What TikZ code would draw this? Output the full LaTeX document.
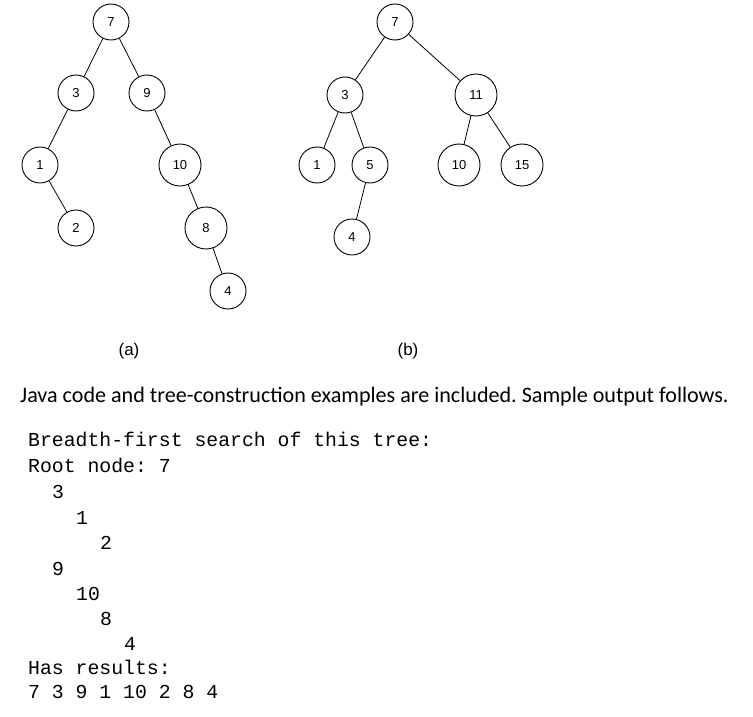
\documentclass[tikz,border=0pt]{standalone}
\usepackage{fontspec}
\setmainfont{Liberation Sans}
\newfontfamily\capfont{Carlito}
\newfontfamily\codefont{Liberation Mono}
\frenchspacing
\begin{document}
\begin{tikzpicture}[x=1pt,y=-1pt,
  tn/.style={circle,draw,line width=0.9pt,minimum size=36pt,inner sep=0pt,font=\fontsize{13}{15}\selectfont},
  tw/.style={tn,minimum size=42pt},
  edge/.style={line width=0.8pt},
  code/.style={anchor=base west,inner sep=0pt,font=\codefont\fontsize{19.8}{22}\selectfont}]
\useasboundingbox (0,0) rectangle (753,717);
% tree a
\node[tn] (a7) at (111,22) {7};
\node[tn] (a3) at (76,93) {3};
\node[tn] (a9) at (147,93) {9};
\node[tn] (a1) at (40,165) {1};
\node[tw] (a10) at (180,165) {10};
\node[tn] (a2) at (76,228) {2};
\node[tw] (a8) at (206,228) {8};
\node[tn] (a4) at (228,291) {4};
\draw[edge] (a7)--(a3) (a7)--(a9) (a3)--(a1) (a1)--(a2) (a9)--(a10) (a10)--(a8) (a8)--(a4);
% tree b
\node[tn] (b7) at (395,22) {7};
\node[tn] (b3) at (345,95) {3};
\node[tw] (b11) at (476,95) {11};
\node[tn] (b1) at (317,165) {1};
\node[tn] (b5) at (370,165) {5};
\node[tw] (b10) at (459,165) {10};
\node[tw] (b15) at (522,165) {15};
\node[tn] (b4) at (352,237) {4};
\draw[edge] (b7)--(b3) (b7)--(b11) (b3)--(b1) (b3)--(b5) (b5)--(b4) (b11)--(b10) (b11)--(b15);
\node[font=\fontsize{17}{20}\selectfont] (la) at (129,351) {(a)};
\node[font=\fontsize{17}{20}\selectfont] (lb) at (408,351) {(b)};
\node[anchor=west,inner sep=0pt,font=\capfont\fontsize{22.1}{24}\selectfont] (cap) at (20,397) {Java code and tree-construction examples are included. Sample output follows.};
\node[code] (c1) at (28,446) {Breadth-first search of this tree:};
\node[code] (c2) at (28,472) {Root node: 7};
\node[code] (c3) at (52,498) {3};
\node[code] (c4) at (76,524) {1};
\node[code] (c5) at (100,549) {2};
\node[code] (c6) at (52,575) {9};
\node[code] (c7) at (76,600) {10};
\node[code] (c8) at (100,625) {8};
\node[code] (c9) at (124,650) {4};
\node[code] (c10) at (28,674) {Has results:};
\node[code] (c11) at (28,698) {7 3 9 1 10 2 8 4};
\end{tikzpicture}
\end{document}
